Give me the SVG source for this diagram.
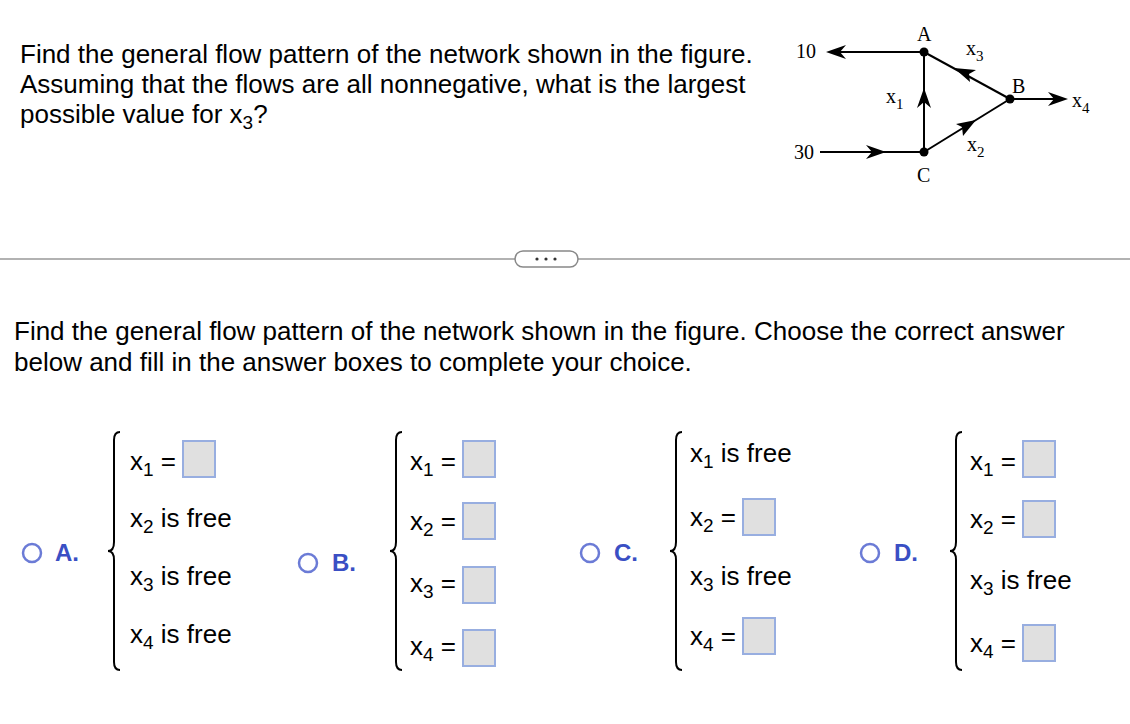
<svg xmlns="http://www.w3.org/2000/svg" width="1130" height="724" viewBox="0 0 1130 724">
<style>
.t{font-family:"Liberation Sans",Arial,sans-serif;font-size:26px;fill:#000}
.s{font-size:19px}
.g{font-family:"Liberation Serif","Times New Roman",serif;font-size:20px;fill:#000}
.gs{font-size:15px}
.lbl{font-family:"Liberation Sans",Arial,sans-serif;font-size:24px;font-weight:bold;fill:#3a4fc4}
.box{fill:#e0e0e0;stroke:#98aee0;stroke-width:2}
.rad{fill:#fff;stroke:#6b7bd6;stroke-width:2.5}
.br{fill:none;stroke:#000;stroke-width:2}
.e{stroke:#000;stroke-width:2;fill:none}
</style>
<defs>
<path id="brace" d="M8,0 Q2,0 2,8 L2,110 Q2,119 -4,119 Q2,119 2,128 L2,230 Q2,238 8,238" />
</defs>
<rect width="1130" height="724" fill="#fff"/>
<text class="t"><tspan x="20" y="63">Find the general flow pattern of the network shown in the figure.</tspan><tspan x="20" y="93">Assuming that the flows are all nonnegative, what is the largest</tspan><tspan x="20" y="123">possible value for x<tspan class="s" dy="6">3</tspan><tspan dy="-6">?</tspan></tspan></text>
<g id="connectors">
<line class="e" x1="924" y1="52" x2="832" y2="52"/>
<path d="M826,52 L846,45 L840,52 L846,59 Z"/>
<line class="e" x1="820" y1="152" x2="924" y2="152"/>
<path d="M886,152 L866,145 L872,152 L866,159 Z"/>
<line class="e" x1="924" y1="152" x2="924" y2="52"/>
<path d="M924,88 L917,108 L924,102 L931,108 Z"/>
<line class="e" x1="924" y1="152" x2="1010" y2="99"/>
<path d="M976,120 L956,124 L962,127 L963,136 Z"/>
<line class="e" x1="1010" y1="99" x2="924" y2="52"/>
<path d="M954,68 L970,82 L969,74 L976,70 Z"/>
<line class="e" x1="1010" y1="99" x2="1062" y2="99"/>
<path d="M1068,99 L1048,92 L1054,99 L1048,106 Z"/>
</g>
<g id="nodeA"><circle cx="924" cy="52" r="4.5"/><text class="g" x="917" y="41">A</text></g>
<g id="nodeB"><circle cx="1010" cy="99" r="4.5"/><text class="g" x="1012" y="93">B</text></g>
<g id="nodeC"><circle cx="924" cy="152" r="4.5"/><text class="g" x="917" y="182">C</text></g>
<g id="labels">
<text class="g" x="796" y="58">10</text>
<text class="g" x="794" y="159">30</text>
<text class="g" x="886" y="103">x<tspan class="gs" dy="6">1</tspan></text>
<text class="g" x="966" y="55">x<tspan class="gs" dy="6">3</tspan></text>
<text class="g" x="967" y="151">x<tspan class="gs" dy="6">2</tspan></text>
<text class="g" x="1072" y="107">x<tspan class="gs" dy="6">4</tspan></text>
</g>
<line x1="0" y1="259" x2="1130" y2="259" stroke="#999" stroke-width="1.5"/>
<rect x="515" y="251" width="63" height="16" rx="8" fill="#fff" stroke="#888" stroke-width="1.5"/>
<circle cx="537" cy="259" r="1.6" fill="#333"/><circle cx="546" cy="259" r="1.6" fill="#333"/><circle cx="555" cy="259" r="1.6" fill="#333"/>
<text class="t"><tspan x="14" y="340">Find the general flow pattern of the network shown in the figure. Choose the correct answer</tspan><tspan x="14" y="371">below and fill in the answer boxes to complete your choice.</tspan></text>
<g id="optA">
<circle class="rad" cx="32" cy="553" r="9"/><text class="lbl" x="55" y="561">A.</text>
<use href="#brace" class="br" x="112" y="432"/>
<text class="t" x="130" y="470">x<tspan class="s" dy="6">1</tspan><tspan dy="-6"> =</tspan></text>
<rect class="box" x="183" y="441" width="32" height="36"/>
<text class="t" x="130" y="527">x<tspan class="s" dy="6">2</tspan><tspan dy="-6"> is free</tspan></text>
<text class="t" x="130" y="585">x<tspan class="s" dy="6">3</tspan><tspan dy="-6"> is free</tspan></text>
<text class="t" x="130" y="643">x<tspan class="s" dy="6">4</tspan><tspan dy="-6"> is free</tspan></text>
</g>
<g id="optB">
<circle class="rad" cx="308" cy="563" r="9"/><text class="lbl" x="332" y="571">B.</text>
<use href="#brace" class="br" x="394" y="432"/>
<text class="t" x="410" y="470">x<tspan class="s" dy="6">1</tspan><tspan dy="-6"> =</tspan></text>
<rect class="box" x="463" y="441" width="32" height="36"/>
<text class="t" x="410" y="530">x<tspan class="s" dy="6">2</tspan><tspan dy="-6"> =</tspan></text>
<rect class="box" x="463" y="503" width="32" height="36"/>
<text class="t" x="410" y="592">x<tspan class="s" dy="6">3</tspan><tspan dy="-6"> =</tspan></text>
<rect class="box" x="463" y="567" width="32" height="36"/>
<text class="t" x="410" y="655">x<tspan class="s" dy="6">4</tspan><tspan dy="-6"> =</tspan></text>
<rect class="box" x="463" y="630" width="32" height="36"/>
</g>
<g id="optC">
<circle class="rad" cx="590" cy="553" r="9"/><text class="lbl" x="614" y="561">C.</text>
<use href="#brace" class="br" x="674" y="432"/>
<text class="t" x="690" y="462">x<tspan class="s" dy="6">1</tspan><tspan dy="-6"> is free</tspan></text>
<text class="t" x="690" y="526">x<tspan class="s" dy="6">2</tspan><tspan dy="-6"> =</tspan></text>
<rect class="box" x="743" y="499" width="32" height="36"/>
<text class="t" x="690" y="585">x<tspan class="s" dy="6">3</tspan><tspan dy="-6"> is free</tspan></text>
<text class="t" x="690" y="645">x<tspan class="s" dy="6">4</tspan><tspan dy="-6"> =</tspan></text>
<rect class="box" x="743" y="618" width="32" height="36"/>
</g>
<g id="optD">
<circle class="rad" cx="870" cy="553" r="9"/><text class="lbl" x="894" y="561">D.</text>
<use href="#brace" class="br" x="954" y="432"/>
<text class="t" x="970" y="470">x<tspan class="s" dy="6">1</tspan><tspan dy="-6"> =</tspan></text>
<rect class="box" x="1023" y="441" width="32" height="36"/>
<text class="t" x="970" y="528">x<tspan class="s" dy="6">2</tspan><tspan dy="-6"> =</tspan></text>
<rect class="box" x="1023" y="501" width="32" height="36"/>
<text class="t" x="970" y="589">x<tspan class="s" dy="6">3</tspan><tspan dy="-6"> is free</tspan></text>
<text class="t" x="970" y="652">x<tspan class="s" dy="6">4</tspan><tspan dy="-6"> =</tspan></text>
<rect class="box" x="1023" y="625" width="32" height="36"/>
</g>
</svg>
